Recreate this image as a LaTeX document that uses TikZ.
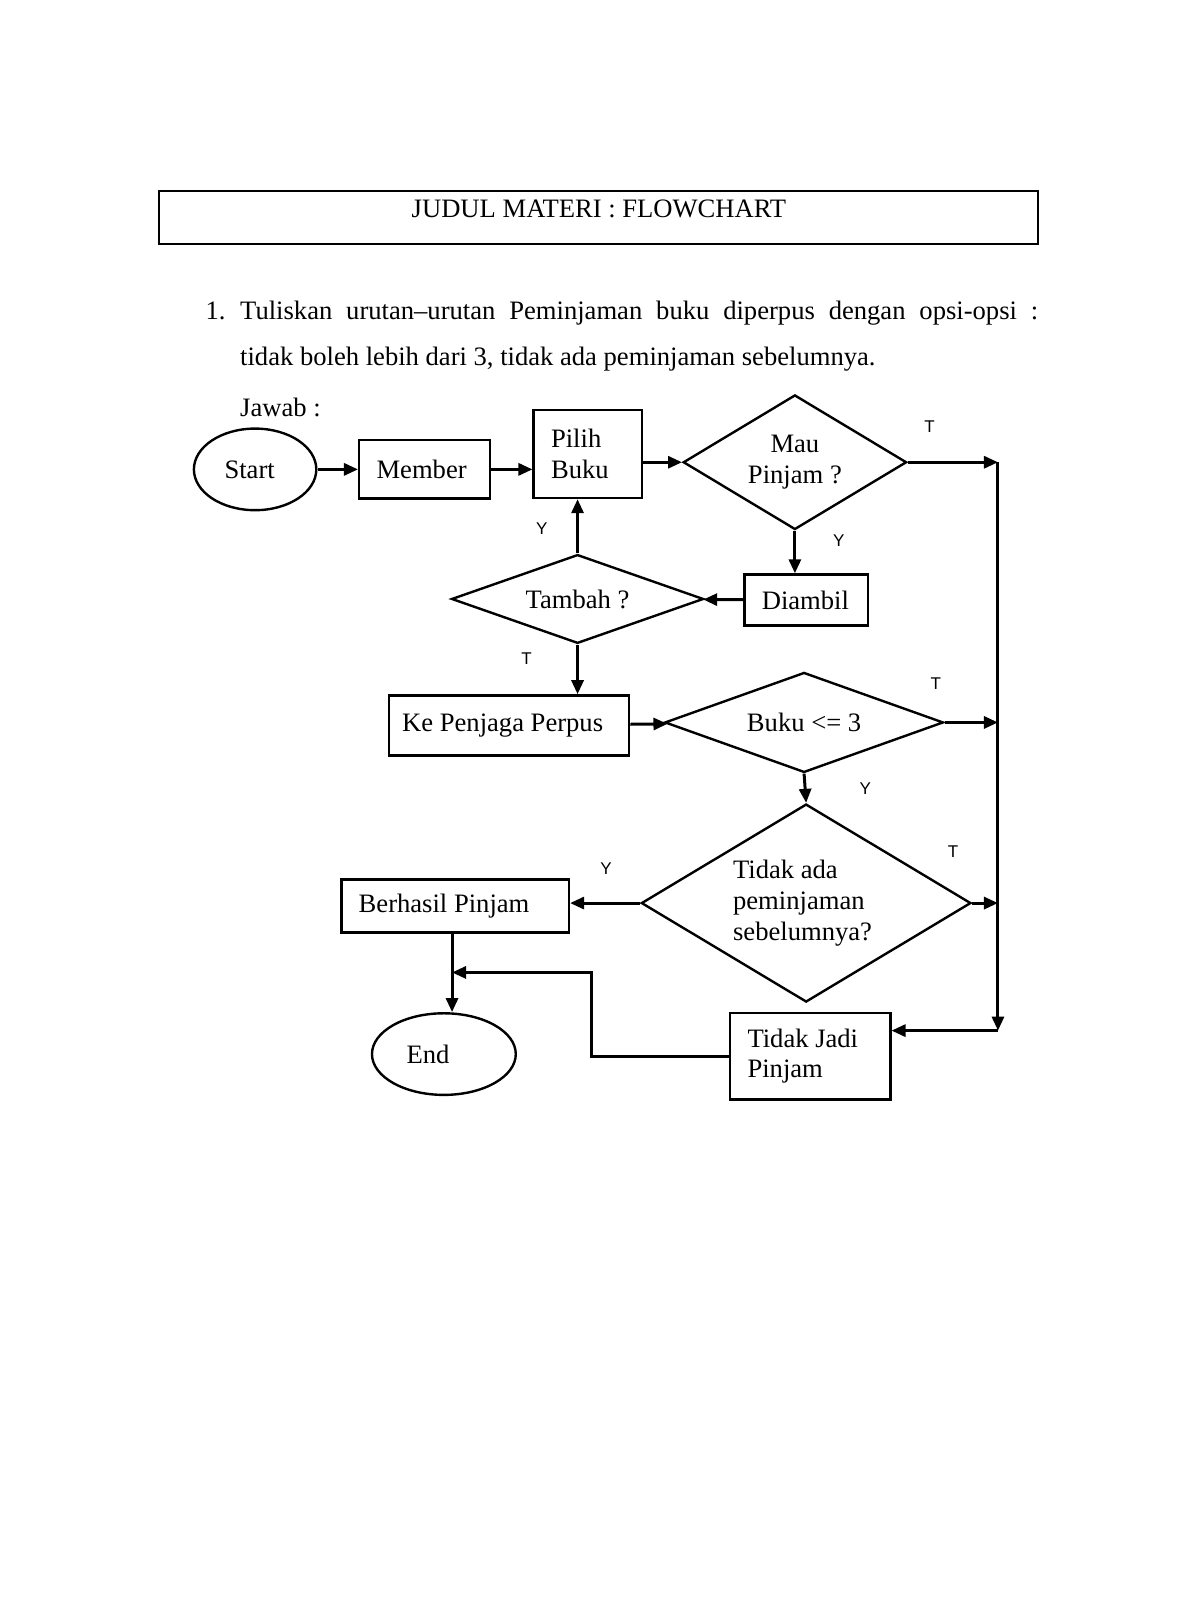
\documentclass[tikz,border=0pt]{standalone}
\usepackage{fontspec}
\setmainfont{Liberation Serif}
\newfontfamily\labelfont{Liberation Sans}
\usetikzlibrary{positioning, shapes.geometric, arrows.meta}

\begin{document}
\begin{tikzpicture}[x=0.5102pt,y=-0.5102pt]
	\tikzstyle{every node}=[font=\fontsize{13.3}{15.3}\selectfont]
	\tikzstyle{box}=[rectangle,draw=black,line width=1.2pt,inner ysep=0pt,inner xsep=8.7pt,align=flush left]
	\tikzstyle{term}=[ellipse,draw=black,line width=1.2pt,inner sep=0pt,align=flush left]
	\tikzstyle{decide}=[diamond,draw=black,line width=1.2pt,inner sep=0pt]
	\tikzstyle{arr}=[line width=1.5pt,-{Triangle[length=7pt,width=6pt]}]
	\tikzstyle{yt}=[font=\labelfont\fontsize{8.5}{10}\selectfont]
	\useasboundingbox (0,0) rectangle (1176,1568);
	% judul
	\node[draw=black,line width=1.2pt,minimum width=439.3pt,minimum height=26.5pt](judul) at (586.5,213) {};
	\node(jtext) at (587,205) {JUDUL MATERI : FLOWCHART};
	\node[anchor=base west,inner sep=0pt](no) at (201,313) {1.};
	\node[anchor=base west,inner sep=0pt,text width=399pt,align=justify,font=\fontsize{13.3}{23}\selectfont](soal) at (235,313)
		{Tuliskan urutan--urutan Peminjaman buku diperpus dengan opsi-opsi :\linebreak tidak boleh lebih dari 3, tidak ada peminjaman sebelumnya.};
	\node[anchor=base west,inner sep=0pt](jawab) at (235,408) {Jawab :};
	% flowchart
	\node[term,text width=30.6pt,minimum width=61.2pt,minimum height=40.8pt](start) at (250,460) {Start};
	\node[box,text width=47.9pt,minimum height=29.1pt](member) at (416,460) {Member};
	\node[box,text width=36.7pt,minimum height=43.9pt](pilih) at (576,445) {Pilih\\Buku};
	\node[decide,aspect=1.66,minimum width=111.7pt,minimum height=67.3pt,align=center](mau) at (779,453) {Mau\\Pinjam ?};
	\node[box,text width=44.3pt,minimum height=25.5pt](diambil) at (790,588) {Diambil};
	\node[decide,aspect=2.8,minimum width=126pt,minimum height=44.4pt](tambah) at (566,587) {Tambah ?};
	\node[box,text width=107pt,inner xsep=6.45pt,minimum height=30.1pt](penjaga) at (499,711) {Ke Penjaga Perpus};
	\node[decide,aspect=2.8,minimum width=139.3pt,minimum height=50pt](buku) at (788,708) {Buku <= 3};
	\node[decide,aspect=1.66,text width=73pt,minimum width=164.8pt,minimum height=99pt,align=flush left](tidak) at (790,885) {Tidak ada\\peminjaman\\sebelumnya?};
	\node[box,text width=96.4pt,minimum height=26.5pt](berhasil) at (446,888) {Berhasil Pinjam};
	\node[term,text width=37.2pt,minimum width=71.9pt,minimum height=40.8pt](finish) at (435,1033) {End};
	\node[box,text width=62.7pt,minimum height=43.4pt](batal) at (794,1035) {Tidak Jadi\\Pinjam};
	\coordinate(r1) at (978,453);
	\coordinate(r2) at (978,708);
	\coordinate(r3) at (978,885);
	\coordinate(r4) at (978,1010);
	\coordinate(k) at (580,953);
	\coordinate(j) at (443,953);
	% panah
	\draw[arr](start) -- (member);
	\draw[arr](member.east) -- (pilih.west |- member.east);
	\draw[arr](pilih.east |- mau.west) -- (mau.west);
	\draw[arr](mau.east) -- (r1);
	\draw[arr](mau.south) -- (mau.south |- diambil.north);
	\draw[arr](diambil) -- (tambah);
	\draw[arr](tambah.north) -- (tambah.north |- pilih.south);
	\draw[arr](tambah.south) -- (tambah.south |- penjaga.north);
	\draw[arr](penjaga) -- (buku);
	\draw[arr](buku.east) -- (r2);
	\draw[arr](buku.south) -- (tidak.north);
	\draw[arr](tidak.east) -- (r3);
	\draw[arr](tidak.west) -- (berhasil.east |- tidak.west);
	\draw[arr](j |- berhasil.south) -- (j |- finish.north);
	\draw[arr](batal.west) -| (k) -- (j);
	\draw[arr](r1) -- (r4);
	\draw[arr](r4) -- (batal.east |- r4);
	% label Y/T
	\node[yt](t1) at (911,418) {T};
	\node[yt](y1) at (822,530) {Y};
	\node[yt](y2) at (531,518) {Y};
	\node[yt](t2) at (516,645) {T};
	\node[yt](t3) at (917,670) {T};
	\node[yt](y3) at (848,773) {Y};
	\node[yt](t4) at (934,835) {T};
	\node[yt](y4) at (594,851) {Y};
\end{tikzpicture}
\end{document}
